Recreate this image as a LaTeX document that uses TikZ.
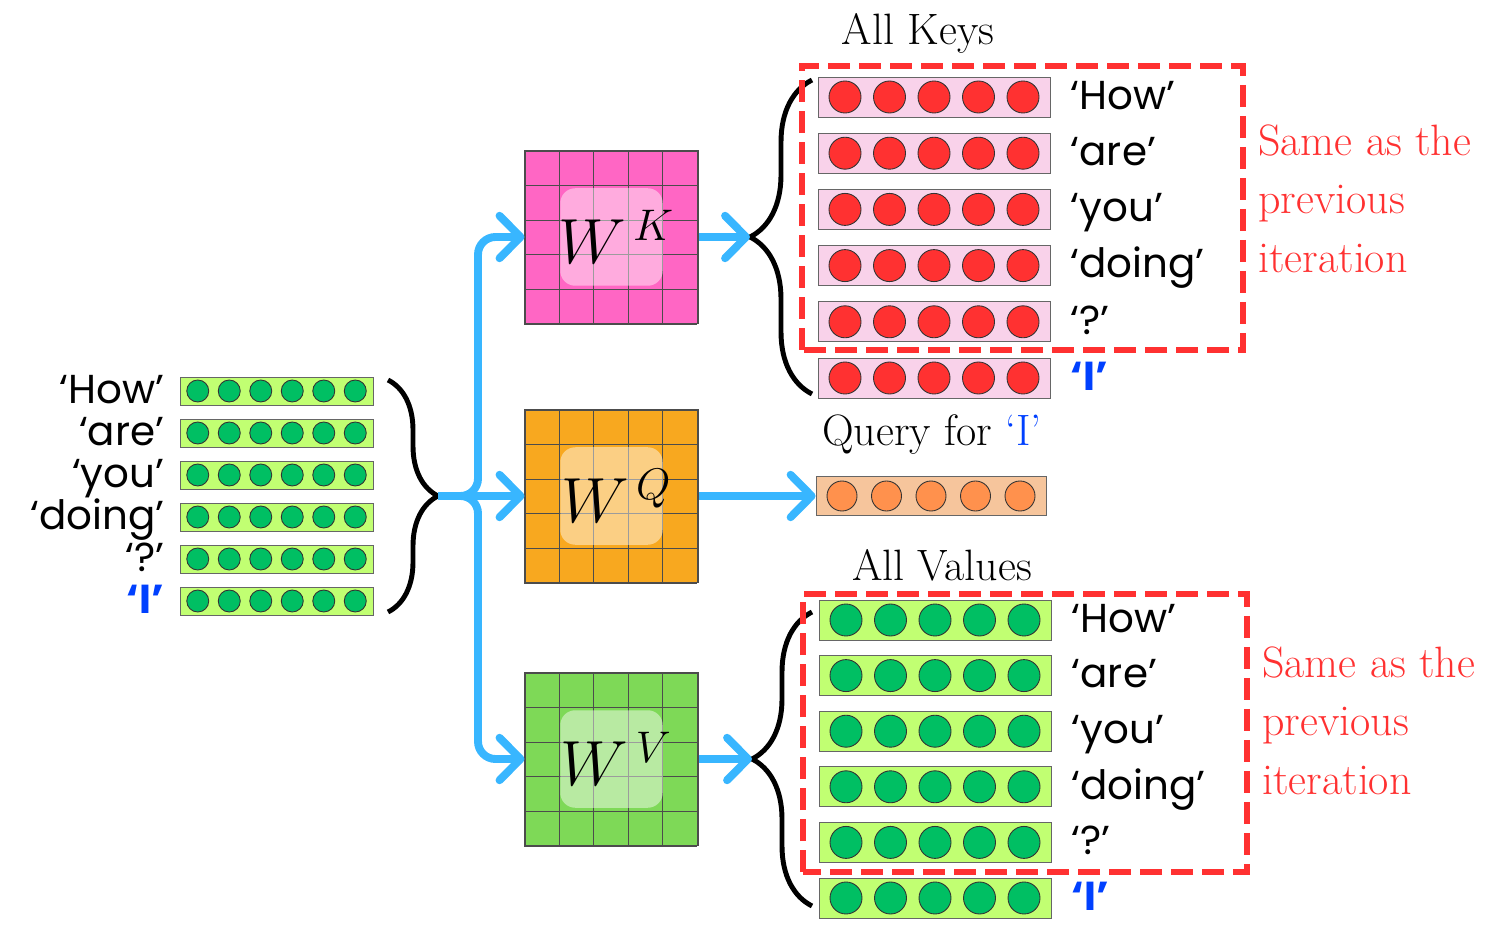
\documentclass[tikz,border=0pt]{standalone}
\usepackage{fontspec}
\newfontfamily\wordfont{Poppins}
\usepackage{xcolor}
\usepackage{tikz}
\usetikzlibrary{positioning,calc,arrows.meta,decorations.pathreplacing}

\definecolor{flowblue}{HTML}{38B6FF}
\definecolor{wkpink}{HTML}{FF66C4}
\definecolor{wqorange}{HTML}{F8A81F}
\definecolor{wvgreen}{HTML}{7ED957}
\definecolor{keyfill}{HTML}{F9D2EA}
\definecolor{keydot}{HTML}{FF3131}
\definecolor{valfill}{HTML}{C1FF72}
\definecolor{valdot}{HTML}{00BF63}
\definecolor{qfill}{HTML}{F6C59C}
\definecolor{qdot}{HTML}{FF914D}
\definecolor{samered}{HTML}{FF3131}
\definecolor{tokblue}{HTML}{0040FF}

\tikzset{
  invec/.style={draw=black!60, line width=0.5pt, fill=valfill, minimum width=3.86cm, minimum height=0.56cm, inner sep=0pt},
  kvec/.style={draw=black!60, line width=0.5pt, fill=keyfill, minimum width=4.64cm, minimum height=0.8cm, inner sep=0pt},
  vvec/.style={kvec, fill=valfill},
  qvec/.style={kvec, fill=qfill, minimum width=4.6cm, minimum height=0.78cm},
  dot/.style={draw=black!80, line width=0.5pt},
  wmat/.style={draw=black!70, line width=0.6pt, minimum size=3.46cm, inner sep=0pt},
  wglass/.style={fill=white, fill opacity=0.45, rounded corners=0.3cm, minimum width=2.05cm, minimum height=1.95cm, inner sep=0pt},
  wsym/.style={font=\huge, scale=1.75, inner sep=0pt},
  flow/.style={draw=flowblue, line width=4.5pt, rounded corners=0.35cm},
  flowarrow/.style={flow, -{Straight Barb[length=0.42cm, width=0.85cm, round]}},
  curly/.style={decorate, decoration={brace, amplitude=#1}, line width=2.8pt, draw=black},
  word/.style={font=\wordfont\fontsize{23}{27}\selectfont, inner sep=0pt, text height=18pt, text depth=4pt},
  iword/.style={word, font=\wordfont\bfseries\fontsize{23}{27}\selectfont, text=tokblue},
  title/.style={font=\fontsize{25}{29}\selectfont, inner sep=0pt},
  samebox/.style={draw=samered, line width=3.4pt, dash pattern=on 0.44cm off 0.18cm},
  samenote/.style={text=samered, font=\fontsize{25}{33.5}\selectfont, align=left, anchor=north west, inner sep=0pt}
}

\begin{document}
\begin{tikzpicture}
  \useasboundingbox (0,0) rectangle (30,18.9);

  % Input tokens
  \foreach \i in {0,...,5} {
    \node[invec] (in\i) at (5.53, 11.08-0.84*\i) {};
    \foreach \c in {0,...,5}
      \draw[dot, fill=valdot] ($(in\i)+(-1.575+0.63*\c,0)$) circle (0.22);
  }
  \foreach \w [count=\i from 0] in {How,are,you,doing,?}
    \node[word, left=0.3cm of in\i] (inw\i) {‘\w’};
  \node[iword, left=0.3cm of in5] (inw5) {‘I’};

  % Weight matrices
  \foreach \m/\c/\s/\y in {WK/wkpink/K/14.16, WQ/wqorange/Q/8.98, WV/wvgreen/V/3.72} {
    \node[wmat, fill=\c] (\m) at (12.23,\y) {};
    \begin{scope}[shift={(\m.south west)}]
      \draw[black!70, line width=0.6pt] (0,0) grid[step=0.692] (3.46,3.46);
    \end{scope}
    \node[wglass] (\m glass) at (\m) {};
    \node[wsym] (\m sym) at ([xshift=0.1cm]\m) {$W^{\,\s}$};
  }

  % Keys
  \foreach \i in {0,...,5} {
    \node[kvec] (k\i) at (18.68, 16.96-1.124*\i) {};
    \foreach \c in {0,...,4}
      \draw[dot, fill=keydot] ($(k\i)+(-1.78+0.89*\c,0)$) circle (0.32);
  }
  \foreach \w [count=\i from 0] in {How,are,you,doing,?}
    \node[word, right=0.4cm of k\i] (kw\i) {‘\w’};
  \node[iword, right=0.4cm of k5] (kw5) {‘I’};

  % Query
  \node[qvec] (q) at (18.62,8.98) {};
  \foreach \c in {0,...,4}
    \draw[dot, fill=qdot] ($(q)+(-1.78+0.89*\c,0)$) circle (0.3);

  % Values
  \foreach \i in {0,...,5} {
    \node[vvec] (v\i) at (18.7, 6.5-1.112*\i) {};
    \foreach \c in {0,...,4}
      \draw[dot, fill=valdot] ($(v\i)+(-1.78+0.89*\c,0)$) circle (0.32);
  }
  \foreach \w [count=\i from 0] in {How,are,you,doing,?}
    \node[word, right=0.4cm of v\i] (vw\i) {‘\w’};
  \node[iword, right=0.4cm of v5] (vw5) {‘I’};

  % Braces
  \coordinate (inbtop) at (7.76,11.3);
  \coordinate (inbbot) at (7.76,6.66);
  \coordinate (inbtip) at (8.76,8.98);
  \draw[curly=1cm] (inbtop) -- (inbbot);
  \coordinate (kbtop) at (16.24,17.3);
  \coordinate (kbbot) at (16.24,11.02);
  \coordinate (kbtip) at (15.0,14.16);
  \draw[curly=1.24cm] (kbbot) -- (kbtop);
  \coordinate (vbtop) at (16.24,6.66);
  \coordinate (vbbot) at (16.24,0.78);
  \coordinate (vbtip) at (15.04,3.72);
  \draw[curly=1.2cm] (vbbot) -- (vbtop);

  % Flow arrows
  \coordinate (split) at (9.56,8.98);
  \draw[flowarrow] (inbtip) -- (split) |- (WK.west);
  \draw[flowarrow] (inbtip) -- (split) |- (WV.west);
  \draw[flowarrow] (inbtip) -- (WQ.west);
  \draw[flowarrow] (WK.east) -- (kbtip);
  \draw[flowarrow] (WQ.east) -- (q.west);
  \draw[flowarrow] (WV.east) -- (vbtip);

  % Cached rows
  \draw[samebox] (16.04,11.9) rectangle (24.86,17.58);
  \draw[samebox] (16.06,1.46) rectangle (24.94,7.02);
  \node[samenote] (knote) at (25.16,16.42) {Same as the\\previous\\iteration};
  \node[samenote] (vnote) at (25.24,5.98) {Same as the\\previous\\iteration};

  % Titles
  \node[title] (ktitle) at (18.36,18.24) {All Keys};
  \node[title] (qtitle) at (18.64,10.2) {Query for {\color{tokblue}‘I’}};
  \node[title] (vtitle) at (18.84,7.6) {All Values};
\end{tikzpicture}
\end{document}
